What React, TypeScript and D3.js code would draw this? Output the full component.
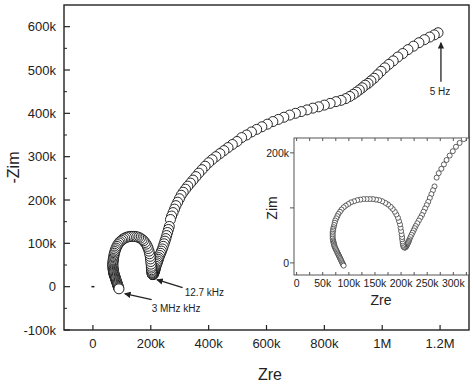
import { useEffect, useRef } from 'react';
import * as d3 from 'd3';

// Nyquist data, values in k (3 MHz -> 5 Hz)
const zre = [
  90, 89, 88, 87, 86, 85, 84, 83, 82, 81, 80, 79, 78, 77, 76, 75, 74, 73, 72, 72, 71, 71, 70, 70, 69,
  69, 69, 69, 69, 70, 70, 71, 72, 73, 74, 76, 78, 80, 83, 86, 90, 94, 99, 104, 110, 116, 122, 128, 134,
  140, 146, 152, 158, 164, 170, 175, 180, 184, 188, 191, 194, 196, 198, 199, 200, 201, 202, 202, 203,
  203, 204, 204, 205, 206, 207, 208, 209,
  210, 211, 212, 213, 214, 215, 216, 218, 220, 222, 224, 226, 228, 231, 234, 237, 240, 243, 246, 249,
  252, 255, 258, 261, 264,
  268, 272, 277, 282, 287, 293, 299, 305, 312, 320, 328, 337, 346, 356, 366, 377, 388, 400, 412, 425,
  439, 453, 467, 482, 498, 514, 531, 548, 566, 584, 603, 622, 641, 660, 680, 700, 720, 740, 760, 780,
  800, 820, 840, 858, 874, 888, 900, 911, 921, 931, 941, 951, 961, 972, 984, 996, 1009, 1023, 1038,
  1054, 1071, 1089, 1108, 1127, 1146, 1164, 1180, 1193,
];
const zim = [
  -5, -3, -1, 1, 3, 5, 7, 9, 11, 13, 15, 17, 19, 21, 23, 25, 27, 29, 31, 33, 35, 37, 39, 41, 44,
  47, 50, 53, 56, 59, 62, 65, 69, 73, 77, 81, 85, 89, 93, 97, 101, 104, 107, 110, 112, 114, 115, 116, 116,
  116, 116, 115, 114, 112, 109, 106, 102, 98, 93, 88, 82, 76, 70, 64, 58, 52, 47, 43, 39,
  36, 33, 31, 29, 28, 28, 28, 29,
  30, 32, 34, 36, 38, 40, 43, 47, 51, 55, 59, 63, 67, 72, 77, 82, 87, 93, 99, 105,
  111, 118, 125, 132, 139,
  155, 163, 171, 179, 187, 195, 203, 211, 218, 225, 232, 239, 246, 254, 262, 270, 278, 286, 293, 300,
  307, 314, 321, 328, 335, 344, 350, 357, 363, 369, 375, 381, 386, 391, 396, 400, 404, 408, 412, 415,
  419, 423, 427, 430, 434, 439, 444, 449, 454, 459, 465, 469, 475, 481, 489, 497, 505, 513, 521,
  530, 538, 547, 555, 563, 570, 576, 581, 586,
];

const xTicks = [0, 200, 400, 600, 800, 1000, 1200];
const xTickLabels = ['0', '200k', '400k', '600k', '800k', '1M', '1.2M'];
const yTicks = [-100, 0, 100, 200, 300, 400, 500, 600];
const yTickLabels = ['-100k', '0', '100k', '200k', '300k', '400k', '500k', '600k'];

const insetXTicks = [0, 50, 100, 150, 200, 250, 300];
const insetXLabels = ['0', '50k', '100k', '150k', '200k', '250k', '300k'];
const insetYTicks = [0, 200];
const insetYLabels = ['0', '200k'];

// annotations: arrow tip, arrow tail, text anchor (data units)
const notes = [
  { label: '12.7 kHz', tip: [221, 16], tail: [310, -2], at: [317, -21], anchor: 'start' },
  { label: '3 MHz kHz', tip: [110, -16], tail: [203, -30], at: [203, -58], anchor: 'start' },
  { label: '5 Hz', tip: [1203, 563], tail: [1203, 473], at: [1200, 443], anchor: 'middle' },
];

const FONT = '"Liberation Sans", Arial, sans-serif';
const INK = '#222';

const App = () => {
  const svgRef = useRef(null);

  useEffect(() => {
    const svg = d3.select(svgRef.current);
    svg.selectAll('*').remove();

    const width = 474;
    const height = 387;
    const m = { top: 5, right: 5, bottom: 57, left: 64 };
    // drawn from low to high frequency, so the 3 MHz point ends on top
    const pts = zre.map((x, i) => [x, zim[i]]).reverse();

    const x = d3.scaleLinear().domain([-100, 1300]).range([m.left, width - m.right]);
    const y = d3.scaleLinear().domain([-100, 650]).range([height - m.bottom, m.top]);

    svg.append('rect').attr('width', width).attr('height', height).attr('fill', '#fff');

    // arrow head
    svg
      .append('defs')
      .append('marker')
      .attr('id', 'head')
      .attr('viewBox', '0 0 10 10')
      .attr('refX', 9)
      .attr('refY', 5)
      .attr('markerWidth', 5)
      .attr('markerHeight', 5)
      .attr('orient', 'auto')
      .append('path')
      .attr('d', 'M0,0L10,5L0,10z')
      .attr('fill', INK);

    // frame
    svg
      .append('rect')
      .attr('x', m.left)
      .attr('y', m.top)
      .attr('width', width - m.left - m.right)
      .attr('height', height - m.top - m.bottom)
      .attr('fill', 'none')
      .attr('stroke', INK)
      .attr('stroke-width', 1.4);

    const yb = height - m.bottom;
    // x ticks, pointing inward
    const gx = svg.append('g');
    gx.selectAll('line')
      .data(xTicks)
      .enter()
      .append('line')
      .attr('x1', (d) => x(d))
      .attr('x2', (d) => x(d))
      .attr('y1', yb)
      .attr('y2', yb - 5)
      .attr('stroke', INK)
      .attr('stroke-width', 1.2);
    gx.selectAll('text')
      .data(xTicks)
      .enter()
      .append('text')
      .attr('x', (d) => x(d))
      .attr('y', 348)
      .attr('text-anchor', 'middle')
      .attr('font-family', FONT)
      .attr('font-size', 13)
      .attr('fill', INK)
      .text((d, i) => xTickLabels[i]);

    // y ticks, major and minor
    const gy = svg.append('g');
    const minor = yTicks.map((d) => d + 50).filter((d) => d < 650);
    gy.selectAll('line.major')
      .data(yTicks)
      .enter()
      .append('line')
      .attr('x1', m.left)
      .attr('x2', m.left + 6)
      .attr('y1', (d) => y(d))
      .attr('y2', (d) => y(d))
      .attr('stroke', INK)
      .attr('stroke-width', 1.2);
    gy.selectAll('line.minor')
      .data(minor)
      .enter()
      .append('line')
      .attr('x1', m.left)
      .attr('x2', m.left + 3)
      .attr('y1', (d) => y(d))
      .attr('y2', (d) => y(d))
      .attr('stroke', INK)
      .attr('stroke-width', 1);
    gy.selectAll('text')
      .data(yTicks)
      .enter()
      .append('text')
      .attr('x', 56)
      .attr('y', (d) => y(d))
      .attr('dy', '0.35em')
      .attr('text-anchor', 'end')
      .attr('font-family', FONT)
      .attr('font-size', 13)
      .attr('fill', INK)
      .text((d, i) => yTickLabels[i]);

    // axis titles
    svg
      .append('text')
      .attr('x', 270)
      .attr('y', 380)
      .attr('text-anchor', 'middle')
      .attr('font-family', FONT)
      .attr('font-size', 16)
      .attr('fill', INK)
      .text('Zre');
    svg
      .append('text')
      .attr('transform', `translate(19,${(m.top + yb) / 2}) rotate(-90)`)
      .attr('text-anchor', 'middle')
      .attr('font-family', FONT)
      .attr('font-size', 16)
      .attr('fill', INK)
      .text('-Zim');

    // stray mark at origin
    svg
      .append('line')
      .attr('x1', x(0) - 1.5)
      .attr('x2', x(0) + 1.5)
      .attr('y1', y(0))
      .attr('y2', y(0))
      .attr('stroke', INK)
      .attr('stroke-width', 1.5);

    // main markers
    svg
      .append('g')
      .selectAll('circle')
      .data(pts)
      .enter()
      .append('circle')
      .attr('cx', (d) => x(d[0]))
      .attr('cy', (d) => y(d[1]))
      .attr('r', 5)
      .attr('fill', '#fff')
      .attr('stroke', '#111')
      .attr('stroke-width', 0.9);

    // annotations
    const gn = svg.append('g');
    notes.forEach((n) => {
      gn.append('line')
        .attr('x1', x(n.tail[0]))
        .attr('y1', y(n.tail[1]))
        .attr('x2', x(n.tip[0]))
        .attr('y2', y(n.tip[1]))
        .attr('stroke', INK)
        .attr('stroke-width', 1.3)
        .attr('marker-end', 'url(#head)');
      gn.append('text')
        .attr('x', x(n.at[0]))
        .attr('y', y(n.at[1]))
        .attr('text-anchor', n.anchor)
        .attr('font-family', FONT)
        .attr('font-size', 10)
        .attr('fill', INK)
        .text(n.label);
    });

    // inset
    const ib = { left: 294, right: 469, top: 138, bottom: 275 };
    const ix = d3.scaleLinear().domain([-5, 330]).range([ib.left, ib.right]);
    const iy = d3.scaleLinear().domain([-22, 227]).range([ib.bottom, ib.top]);
    const gi = svg.append('g');

    gi.append('rect')
      .attr('x', ib.left)
      .attr('y', ib.top)
      .attr('width', ib.right - ib.left)
      .attr('height', ib.bottom - ib.top)
      .attr('fill', '#fff')
      .attr('stroke', '#555')
      .attr('stroke-width', 1);

    svg
      .select('defs')
      .append('clipPath')
      .attr('id', 'inset-clip')
      .append('rect')
      .attr('x', ib.left)
      .attr('y', ib.top)
      .attr('width', ib.right - ib.left)
      .attr('height', ib.bottom - ib.top);

    const small = d3.range(0, 330, 25);
    gi.selectAll('line.top')
      .data(small)
      .enter()
      .append('line')
      .attr('x1', (d) => ix(d))
      .attr('x2', (d) => ix(d))
      .attr('y1', ib.top)
      .attr('y2', ib.top + 3)
      .attr('stroke', '#555');
    gi.selectAll('line.bot')
      .data(small)
      .enter()
      .append('line')
      .attr('x1', (d) => ix(d))
      .attr('x2', (d) => ix(d))
      .attr('y1', ib.bottom)
      .attr('y2', ib.bottom - 3)
      .attr('stroke', '#555');
    gi.selectAll('line.left')
      .data([0, 100, 200])
      .enter()
      .append('line')
      .attr('x1', ib.left - 4)
      .attr('x2', ib.left)
      .attr('y1', (d) => iy(d))
      .attr('y2', (d) => iy(d))
      .attr('stroke', '#555');

    gi.selectAll('text.xl')
      .data(insetXTicks)
      .enter()
      .append('text')
      .attr('x', (d) => ix(d))
      .attr('y', 287)
      .attr('text-anchor', 'middle')
      .attr('font-family', FONT)
      .attr('font-size', 10.5)
      .attr('fill', INK)
      .text((d, i) => insetXLabels[i]);
    gi.selectAll('text.yl')
      .data(insetYTicks)
      .enter()
      .append('text')
      .attr('x', ib.left - 5)
      .attr('y', (d) => iy(d))
      .attr('dy', '0.35em')
      .attr('text-anchor', 'end')
      .attr('font-family', FONT)
      .attr('font-size', 10.5)
      .attr('fill', INK)
      .text((d, i) => insetYLabels[i]);

    gi.append('text')
      .attr('x', 381)
      .attr('y', 305)
      .attr('text-anchor', 'middle')
      .attr('font-family', FONT)
      .attr('font-size', 14)
      .attr('fill', INK)
      .text('Zre');
    gi.append('text')
      .attr('transform', `translate(277,208) rotate(-90)`)
      .attr('text-anchor', 'middle')
      .attr('font-family', FONT)
      .attr('font-size', 14)
      .attr('fill', INK)
      .text('Zim');

    gi.append('g')
      .attr('clip-path', 'url(#inset-clip)')
      .selectAll('circle')
      .data(pts.filter((d) => d[0] < 345 && d[1] < 240))
      .enter()
      .append('circle')
      .attr('cx', (d) => ix(d[0]))
      .attr('cy', (d) => iy(d[1]))
      .attr('r', 2.5)
      .attr('fill', '#fff')
      .attr('stroke', '#3a3a3a')
      .attr('stroke-width', 0.8);
  }, []);

  return (
    <svg
      ref={svgRef}
      width={474}
      height={387}
      style={{ position: 'absolute', left: 0, top: 0 }}
    ></svg>
  );
};

export default App;
